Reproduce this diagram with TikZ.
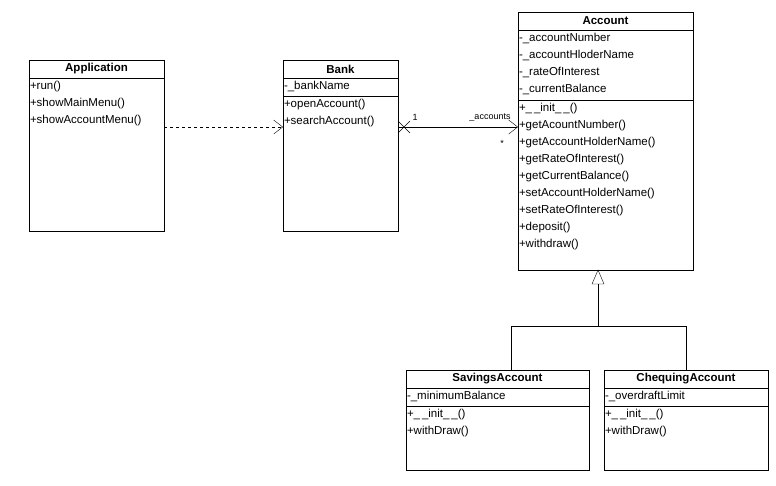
\documentclass[tikz,border=0pt]{standalone}
\usepackage{fontspec}
\setmainfont{Liberation Sans}
\usetikzlibrary{positioning,arrows.meta}

\tikzset{
  umlname/.style={draw, outer sep=0pt, font=\fontsize{11.5}{14}\selectfont\bfseries, minimum width=#1, minimum height=18pt, inner sep=0pt},
  umlpart/.style={draw, outer sep=0pt, inner sep=0pt, anchor=north, font=\fontsize{11.5}{17}\selectfont},
  openhead/.style={-{Straight Barb[length=9pt,width=14pt]}},
  small/.style={font=\fontsize{9}{10}\selectfont}
}
\newcommand{\umlbox}[3]{\parbox[c][#2][t]{#1}{\hspace*{1pt}\begin{minipage}[t]{\dimexpr#1-1pt}\raggedright #3\end{minipage}}}

\begin{document}
\begin{tikzpicture}[x=1pt,y=-1pt]
	\useasboundingbox (0,0) rectangle (776,485);
	% Application
	\node [umlname=135pt, anchor=north west] (app) at (29,60) {Application};
	\node [umlpart] (appm) at (app.south) {\umlbox{135pt}{153pt}{\strut +run()\\ +showMainMenu()\\ +showAccountMenu()}};
	% Bank
	\node [umlname=115pt, anchor=north west] (bank) at (283,60) {Bank};
	\node [umlpart] (banka) at (bank.south) {\umlbox{115pt}{18pt}{\strut -\_bankName}};
	\node [umlpart] (bankm) at (banka.south) {\umlbox{115pt}{135pt}{\strut +openAccount()\\ +searchAccount()}};
	% Account
	\node [umlname=175pt, anchor=north west] (acc) at (518,12) {Account};
	\node [umlpart] (acca) at (acc.south) {\umlbox{175pt}{70pt}{\strut -\_accountNumber\\ -\_accountHloderName\\ -\_rateOfInterest\\ -\_currentBalance}};
	\node [umlpart] (accm) at (acca.south) {\umlbox{175pt}{170pt}{\strut +\_\,\_init\_\,\_()\\ +getAcountNumber()\\ +getAccountHolderName()\\ +getRateOfInterest()\\ +getCurrentBalance()\\ +setAccountHolderName()\\ +setRateOfInterest()\\ +deposit()\\ +withdraw()}};
	% SavingsAccount
	\node [umlname=183pt, anchor=north west] (sav) at (406,370) {SavingsAccount};
	\node [umlpart] (sava) at (sav.south) {\umlbox{183pt}{18pt}{\strut -\_minimumBalance}};
	\node [umlpart] (savm) at (sava.south) {\umlbox{183pt}{64pt}{\strut +\_\,\_init\_\,\_()\\ +withDraw()}};
	% ChequingAccount
	\node [umlname=164pt, anchor=north west] (chq) at (604,370) {ChequingAccount};
	\node [umlpart] (chqa) at (chq.south) {\umlbox{164pt}{18pt}{\strut -\_overdraftLimit}};
	\node [umlpart] (chqm) at (chqa.south) {\umlbox{164pt}{64pt}{\strut +\_\,\_init\_\,\_()\\ +withDraw()}};
	% dependency
	\draw [dashed, openhead] (app.east |- 0,127) -- (bank.west |- 0,127);
	% association
	\coordinate (assoc) at (bankm.east |- 0,127);
	\draw [openhead] (assoc) -- (accm.west |- 0,127);
	\draw (assoc) ++(0,-6) -- ++(12,12) (assoc) ++(12,-6) -- ++(-12,12);
	\node [small] (one) at (415,117) {1};
	\node [small] (role) at (490,117) {\_accounts};
	\node [small] (many) at (502,143) {*};
	% generalization
	\coordinate (gtip) at (accm.south -| 598,0);
	\draw (gtip) -- (592,284) -- (604,284) -- cycle;
	\draw (598,284) -- (598,326);
	\draw (sav.north -| 511,0) -- (511,326) -- (686,326) -- (chq.north -| 686,0);
\end{tikzpicture}
\end{document}
